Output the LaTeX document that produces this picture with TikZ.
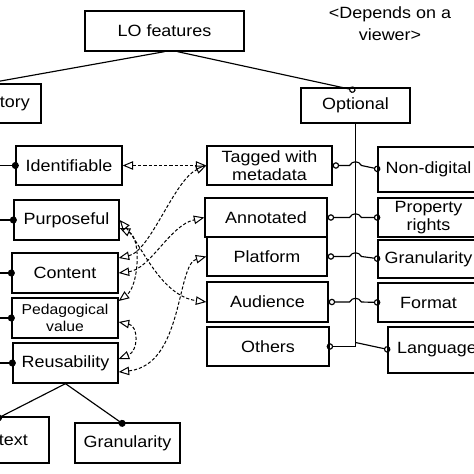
\documentclass[tikz,border=0pt]{standalone}
\usepackage{fontspec}
\setmainfont{Liberation Sans}[FakeStretch=1.1]
\usetikzlibrary{arrows.meta,calc}
\begin{document}
\begin{tikzpicture}[x=1pt,y=-1pt,
  box/.style={draw, line width=1.3pt, inner sep=0pt, align=center, font=\fontsize{16.3}{18}\selectfont},
  dep/.style={dash pattern=on 3.2pt off 2pt, line width=1pt,
    {Triangle[open,length=10.5pt,width=8.5pt]}-{Triangle[open,length=10.5pt,width=8.5pt]}},
  link/.style={line width=1.15pt},
  dotend/.style={link, -{Circle[length=7pt]}},
  oc/.style={link, -{Circle[open,length=6.5pt]}},
  ococ/.style={link, {Circle[open,length=6.5pt]}-{Circle[open,length=6.5pt]}}
]
\useasboundingbox (0,0) rectangle (474,474);

% top
\node[box, minimum width=159pt, minimum height=40pt] (lo) at (164.5,31) {LO features};
\node[font=\fontsize{16.3}{22}\selectfont, align=center] (depnote) at (390,24) {<Depends on a\\viewer>};
\node[box, minimum width=107pt, minimum height=39pt] (mand) at (-12.5,103.5) {Mandatory};
\node[box, minimum width=109pt, minimum height=35pt] (opt) at (355.5,105.5) {Optional};

% mandatory column
\node[box, minimum width=106pt, minimum height=39pt] (ident) at (69,165.5) {Identifiable};
\node[box, minimum width=105pt, minimum height=40pt] (purp) at (66.5,220) {Purposeful};
\node[box, minimum width=106pt, minimum height=40pt] (cont) at (65,273) {Content};
\node[box, minimum width=106pt, minimum height=40pt, font=\fontsize{14.3}{17}\selectfont] (ped) at (65,318) {Pedagogical\\value};
\node[box, minimum width=105pt, minimum height=40pt] (reus) at (65.5,363) {Reusability};
\node[box, minimum width=104pt, minimum height=46pt] (ctx) at (-3,440) {Context};
\node[box, minimum width=105pt, minimum height=40pt] (gran1) at (127.5,443) {Granularity};

% middle column
\node[box, minimum width=125pt, minimum height=39pt] (tag) at (269.5,165.5) {Tagged with\\metadata};
\node[box, minimum width=122pt, minimum height=39pt] (ann) at (266,217.5) {Annotated};
\node[box, minimum width=120pt, minimum height=39pt] (plat) at (267,256.5) {Platform};
\node[box, minimum width=121pt, minimum height=40pt] (aud) at (267.5,302) {Audience};
\node[box, minimum width=122pt, minimum height=39pt] (oth) at (268,346.5) {Others};

% right column
\node[box, minimum width=101pt, minimum height=45pt] (nond) at (428.5,169.5) {Non-digital};
\node[box, minimum width=101pt, minimum height=39pt] (prop) at (428.5,217.5) {Property\\rights};
\node[box, minimum width=101pt, minimum height=38pt] (gran2) at (428.5,259) {Granularity};
\node[box, minimum width=101pt, minimum height=39pt] (fmt) at (428.5,302.5) {Format};
\node[box, minimum width=98pt, minimum height=46pt] (lang) at (437,350) {Language};

% tree links
\draw[link] (lo.south) -- (mand.north);
\draw[oc] ($(lo.south)+(13,0)$) -- ($(opt.north)+(0,3)$);

\draw[link] (mand.south) -- (mand.south |- reus.west);
\foreach \n in {ident,purp,cont,ped,reus}
  \draw[dotend] (mand.south |- \n.west) -- ($(\n.west)+(3.5,0)$);

\draw[dotend] (reus.south) -- ($(ctx.north)+(-1.5,3)$);
\draw[dotend] (reus.south) -- ($(gran1.north)+(-2.5,3)$);

% optional spine
\coordinate (sp) at (opt.south |- oth.east);
\draw[link] (opt.south) -- (sp);
\draw[oc] (sp) -- ($(oth.east)+(-3,0)$);
\draw[oc] ($(sp)+(0,-4)$) -- ($(lang.west)+(3,0)$);

% hop links
\foreach \a/\b in {tag/nond,ann/prop,plat/gran2,aud/fmt}{
  \draw[ococ] (\a.east) -- ($(\a.east -| opt.south)+(-6,0)$)
    .. controls ($(\a.east -| opt.south)+(-3,-5)$) and ($(\a.east -| opt.south)+(3,-5)$)
    .. ($(\a.east -| opt.south)+(6,0)$) -- ($(\b.west)+(3,0)$);
}

% dashed dependencies
\draw[dep] (ident.east) -- (tag.west);
\draw[dep] ($(cont.east)+(0,-15)$) .. controls ($(cont.east)+(32,-22)$) and ($(tag.west)+(-32,14)$) .. (tag.west);
\draw[dep] (cont.east) .. controls ($(cont.east)+(32,-4)$) and ($(ann.west)+(-35,8)$) .. (ann.west);
\draw[dep] (purp.east) .. controls ($(purp.east)+(22,26)$) and ($(aud.west)+(-45,-6)$) .. (aud.west);
\draw[dep] ($(purp.east)+(0,8)$) .. controls ($(purp.east)+(22,18)$) and ($(ped.east)+(20,-32)$) .. ($(ped.east)+(0,-17)$);
\draw[dep] ($(ped.east)+(0,4)$) .. controls ($(ped.east)+(20,8)$) and ($(reus.east)+(20,-12)$) .. ($(reus.east)+(0,-4)$);
\draw[dep] ($(reus.east)+(0,9)$) .. controls ($(reus.east)+(65,2)$) and ($(plat.west)+(-30,8)$) .. (plat.west);
\end{tikzpicture}
\end{document}
